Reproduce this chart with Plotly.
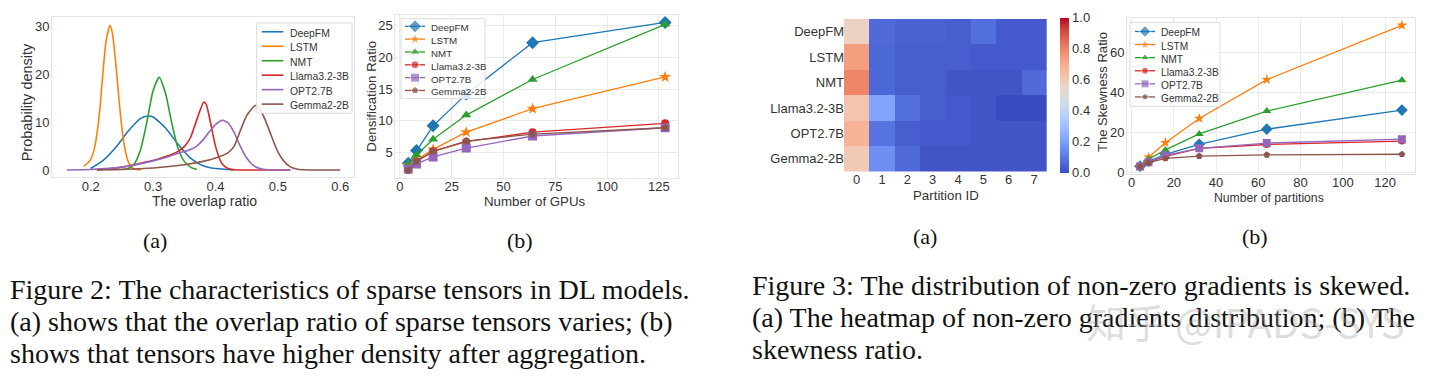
import plotly.graph_objects as go

W, H = 1440, 377
def px(x): return x / W
def py(y): return 1 - y / H

# ---------------- data ----------------
models = ["DeepFM", "LSTM", "NMT", "Llama3.2-3B", "OPT2.7B", "Gemma2-2B"]
colors = ["#1f77b4", "#ff7f0e", "#2ca02c", "#d62728", "#9467bd", "#8c564b"]
symbols = ["diamond", "star", "triangle-up", "circle", "square", "pentagon"]
msizes = [10, 9, 9, 8, 9, 8]

# (a) overlap ratio density curves
ov_deepfm_x = [0.200, 0.220, 0.240, 0.260, 0.280, 0.292, 0.300, 0.320, 0.340, 0.360, 0.380, 0.400, 0.430]
ov_deepfm_y = [0.3, 2.0, 4.7, 8.1, 10.8, 11.3, 11.1, 8.8, 5.4, 2.5, 0.9, 0.3, 0.0]
ov_lstm_x = [0.189, 0.195, 0.200, 0.205, 0.210, 0.215, 0.220, 0.225, 0.231, 0.235, 0.240, 0.245, 0.250, 0.255, 0.260, 0.265, 0.270, 0.280]
ov_lstm_y = [0.8, 1.4, 2.2, 4.0, 7.5, 13.2, 21.0, 27.3, 30.3, 28.5, 22.6, 15.3, 8.8, 4.3, 1.8, 0.6, 0.2, 0.0]
ov_nmt_x = [0.250, 0.260, 0.270, 0.280, 0.290, 0.300, 0.310, 0.320, 0.330, 0.340, 0.350, 0.360, 0.370]
ov_nmt_y = [0.1, 0.3, 1.3, 4.3, 10.0, 16.6, 19.4, 16.0, 9.8, 4.5, 1.8, 0.6, 0.1]
ov_llama_x = [0.210, 0.230, 0.250, 0.270, 0.290, 0.300, 0.320, 0.340, 0.350, 0.360, 0.370, 0.381, 0.385, 0.390, 0.400, 0.410, 0.420, 0.430, 0.450, 0.520]
ov_llama_y = [0.05, 0.25, 0.6, 1.1, 1.7, 2.0, 2.8, 3.9, 4.9, 6.8, 10.5, 14.2, 13.8, 11.2, 5.0, 1.4, 0.3, 0.05, 0.0, 0.0]
ov_opt_x = [0.162, 0.200, 0.250, 0.300, 0.320, 0.340, 0.360, 0.370, 0.380, 0.390, 0.400, 0.411, 0.420, 0.430, 0.440, 0.450, 0.460, 0.470, 0.480, 0.520]
ov_opt_y = [0.0, 0.1, 0.6, 1.9, 2.6, 3.5, 4.3, 5.0, 6.3, 8.0, 9.5, 10.4, 9.9, 7.8, 4.9, 2.5, 1.0, 0.35, 0.1, 0.0]
ov_gemma_x = [0.210, 0.250, 0.300, 0.350, 0.380, 0.400, 0.420, 0.430, 0.440, 0.450, 0.464, 0.470, 0.480, 0.490, 0.500, 0.510, 0.520, 0.530, 0.540, 0.600]
ov_gemma_y = [0.0, 0.1, 0.4, 1.1, 1.8, 2.5, 3.6, 5.0, 8.3, 11.4, 13.5, 13.0, 10.4, 7.0, 3.8, 1.8, 0.65, 0.2, 0.05, 0.0]
ov_x = [ov_deepfm_x, ov_lstm_x, ov_nmt_x, ov_llama_x, ov_opt_x, ov_gemma_x]
ov_y = [ov_deepfm_y, ov_lstm_y, ov_nmt_y, ov_llama_y, ov_opt_y, ov_gemma_y]

# (b) densification ratio vs number of GPUs
gpus = [4, 8, 16, 32, 64, 128]
dens_deepfm = [3.3, 5.3, 9.2, 14.2, 22.3, 25.5]
dens_lstm = [3.0, 3.8, 5.5, 8.2, 11.9, 16.9]
dens_nmt = [3.1, 4.6, 7.1, 10.9, 16.5, 25.2]
dens_llama = [2.3, 3.6, 5.2, 6.7, 8.2, 9.6]
dens_opt = [2.4, 3.2, 4.3, 5.7, 7.6, 8.9]
dens_gemma = [2.2, 3.6, 5.2, 6.8, 7.9, 8.9]
dens = [dens_deepfm, dens_lstm, dens_nmt, dens_llama, dens_opt, dens_gemma]

# Figure 3 (a) heatmap of non-zero gradient distribution
partition_ids = [0, 1, 2, 3, 4, 5, 6, 7]
heat_deepfm = [0.57, 0.07, 0.05, 0.05, 0.04, 0.08, 0.03, 0.03]
heat_lstm = [0.74, 0.06, 0.04, 0.04, 0.04, 0.03, 0.03, 0.03]
heat_nmt = [0.80, 0.06, 0.04, 0.04, 0.02, 0.02, 0.02, 0.07]
heat_llama = [0.62, 0.22, 0.08, 0.04, 0.03, 0.02, 0.00, 0.00]
heat_opt = [0.68, 0.09, 0.04, 0.03, 0.03, 0.02, 0.02, 0.02]
heat_gemma = [0.60, 0.16, 0.07, 0.02, 0.02, 0.02, 0.02, 0.02]
heat = [heat_deepfm, heat_lstm, heat_nmt, heat_llama, heat_opt, heat_gemma]

# Figure 3 (b) skewness ratio vs number of partitions
partitions = [4, 8, 16, 32, 64, 128]
skew_deepfm = [3.0, 5.5, 9.0, 14.0, 21.6, 31.2]
skew_lstm = [3.0, 7.5, 14.8, 27.0, 46.5, 73.8]
skew_nmt = [3.0, 6.5, 11.2, 19.2, 30.7, 46.2]
skew_llama = [2.8, 5.0, 8.0, 12.0, 13.9, 15.6]
skew_opt = [2.8, 5.0, 8.5, 12.0, 14.6, 16.6]
skew_gemma = [2.8, 4.8, 6.9, 8.1, 8.7, 9.0]
skew = [skew_deepfm, skew_lstm, skew_nmt, skew_llama, skew_opt, skew_gemma]

coolwarm = [
    [0.0, "rgb(59,76,192)"], [0.0625, "rgb(77,104,215)"], [0.125, "rgb(98,130,234)"],
    [0.1875, "rgb(119,154,247)"], [0.25, "rgb(141,176,254)"], [0.3125, "rgb(163,194,255)"],
    [0.375, "rgb(184,208,249)"], [0.4375, "rgb(204,217,238)"], [0.5, "rgb(221,221,221)"],
    [0.5625, "rgb(236,211,197)"], [0.625, "rgb(245,196,172)"], [0.6875, "rgb(247,177,148)"],
    [0.75, "rgb(244,154,123)"], [0.8125, "rgb(236,127,99)"], [0.875, "rgb(222,96,77)"],
    [0.9375, "rgb(203,62,56)"], [1.0, "rgb(180,4,38)"],
]

SANS = "Liberation Sans, Arial, sans-serif"
SERIF = "Liberation Serif, Times New Roman, serif"
TXT = "#333333"
DY = 4  # visual offset of annotation text (box middle vs glyph centre)

fig = go.Figure()

# panel 1
for i, m in enumerate(models):
    fig.add_trace(go.Scatter(x=ov_x[i], y=ov_y[i], mode="lines", line=dict(color=colors[i], width=1.6, shape="spline", smoothing=0.6),
                             xaxis="x", yaxis="y", showlegend=False))
# panel 2
for i, m in enumerate(models):
    fig.add_trace(go.Scatter(x=gpus, y=dens[i], mode="lines+markers", line=dict(color=colors[i], width=1.3),
                             marker=dict(symbol=symbols[i], size=msizes[i], color=colors[i]),
                             xaxis="x2", yaxis="y2", showlegend=False))
# panel 3 heatmap
fig.add_trace(go.Heatmap(z=heat, x=partition_ids, y=models, colorscale=coolwarm, zmin=0, zmax=1,
                         xaxis="x3", yaxis="y3", showscale=True,
                         colorbar=dict(x=px(1060), xanchor="left", xpad=0, ypad=0, thickness=9,
                                       lenmode="pixels", len=155, y=py(96.8), yanchor="middle",
                                       outlinewidth=0, ticks="", tickvals=[0, 0.2, 0.4, 0.6, 0.8, 1.0],
                                       ticktext=["0.0", "0.2", "0.4", "0.6", "0.8", "1.0"],
                                       tickfont=dict(family=SANS, size=13, color=TXT))))
# panel 4
for i, m in enumerate(models):
    fig.add_trace(go.Scatter(x=partitions, y=skew[i], mode="lines+markers", line=dict(color=colors[i], width=1.3),
                             marker=dict(symbol=symbols[i], size=msizes[i] - 1, color=colors[i]),
                             xaxis="x4", yaxis="y4", showlegend=False))

# manual legends on a page-size overlay axis (pixel coordinates)
def legend(box, y0, dy, lx0, lx1, tx, fsize, with_markers, msize_off=0):
    x0, yt, x1, yb = box
    fig.add_trace(go.Scatter(x=[x0, x1, x1, x0, x0], y=[yt, yt, yb, yb, yt], mode="lines", fill="toself",
                             fillcolor="rgba(255,255,255,0.85)", line=dict(color="#dcdcdc", width=1),
                             xaxis="x5", yaxis="y5", showlegend=False, hoverinfo="skip"))
    for i, m in enumerate(models):
        yy = y0 + dy * i
        if with_markers:
            fig.add_trace(go.Scatter(x=[lx0, (lx0 + lx1) / 2, lx1], y=[yy, yy, yy], mode="lines+markers",
                                     line=dict(color=colors[i], width=1.3),
                                     marker=dict(symbol=symbols[i], size=[0, msizes[i] + msize_off, 0], color=colors[i]),
                                     xaxis="x5", yaxis="y5", showlegend=False, hoverinfo="skip"))
        else:
            fig.add_trace(go.Scatter(x=[lx0, lx1], y=[yy, yy], mode="lines", line=dict(color=colors[i], width=1.6),
                                     xaxis="x5", yaxis="y5", showlegend=False, hoverinfo="skip"))
        fig.add_annotation(x=px(tx), y=py(yy + 1.5), xref="paper", yref="paper", text=m, showarrow=False,
                           xanchor="left", yanchor="middle", font=dict(family=SANS, size=fsize, color=TXT))

legend((256.7, 23.3, 352, 115), 32.3, 14.7, 261.7, 283.3, 288, 10.4, False)
legend((401, 19, 485, 100), 26.7, 13.05, 405, 425, 429, 9.8, True)
legend((1130, 23, 1220, 108), 32, 13.3, 1135, 1155, 1159, 10.2, True, -1)

def ax_style(grid=True, xaxis=True):
    return dict(showline=True, linecolor="#e4e4e4", linewidth=1, mirror=True, showgrid=grid,
                gridcolor="#ebebeb", gridwidth=1, zeroline=False, ticks="", ticklen=0,
                ticklabelstandoff=(-3 if xaxis else -1),
                tickfont=dict(family=SANS, size=13, color=TXT), fixedrange=True)

fig.update_layout(
    width=W, height=H, margin=dict(l=0, r=0, t=0, b=0),
    paper_bgcolor="white", plot_bgcolor="rgba(0,0,0,0)", showlegend=False,
    xaxis=dict(domain=[px(52), px(354)], anchor="y", range=[0.138, 0.622], tickvals=[0.2, 0.3, 0.4, 0.5, 0.6], **ax_style(False)),
    yaxis=dict(domain=[py(180), py(17)], anchor="x", range=[-1.5, 32.1], tickvals=[0, 10, 20, 30], **ax_style(False, False)),
    xaxis2=dict(domain=[px(395.4), px(678)], anchor="y2", range=[-2.2, 134.2], tickvals=[0, 25, 50, 75, 100, 125], **ax_style()),
    yaxis2=dict(domain=[py(180.6), py(15)], anchor="x2", range=[1.03, 26.7], tickvals=[5, 10, 15, 20, 25], **ax_style(True, False)),
    xaxis3=dict(domain=[px(844), px(1046.7)], anchor="y3", tickvals=partition_ids, showline=False, showgrid=False,
                zeroline=False, ticks="", ticklabelstandoff=-2, tickfont=dict(family=SANS, size=13, color=TXT), fixedrange=True),
    yaxis3=dict(domain=[py(174.3), py(19.3)], anchor="x3", autorange="reversed", showline=False, showgrid=False,
                zeroline=False, ticks="", ticklabelstandoff=-1, tickfont=dict(family=SANS, size=13, color=TXT), fixedrange=True),
    xaxis4=dict(domain=[px(1127), px(1415)], anchor="y4", range=[-2.2, 134.2], tickvals=[0, 20, 40, 60, 80, 100, 120], **ax_style()),
    yaxis4=dict(domain=[py(176.5), py(18)], anchor="x4", range=[-0.76, 77.6], tickvals=[0, 20, 40, 60], **ax_style(True, False)),
    xaxis5=dict(domain=[0, 1], anchor="y5", range=[0, W], visible=False, fixedrange=True),
    yaxis5=dict(domain=[0, 1], anchor="x5", range=[H, 0], visible=False, fixedrange=True),
)

def note(x, y, text, size, angle=0, family=SANS, xanchor="center", color=TXT, dy=DY):
    fig.add_annotation(x=px(x), y=py(y + dy), xref="paper", yref="paper", text=text, showarrow=False,
                       textangle=angle, xanchor=xanchor, yanchor="middle", font=dict(family=family, size=size, color=color))

# axis titles
note(27, 104, "Probability density", 14.5, -90, dy=0)
note(204.7, 200, "The overlap ratio", 14)
note(371.7, 97.5, "Densification Ratio", 13.3, -90, dy=0)
note(534.5, 200.7, "Number of GPUs", 13.3)
note(945.5, 195, "Partition ID", 13.3)
note(1103.3, 93.3, "The Skewness Ratio", 13.1, -90, dy=0)
note(1268.8, 196.7, "Number of partitions", 12.2)

# captions
BLACK = "#111111"
note(155, 240, "(a)", 22, family=SERIF, color=BLACK)
note(520, 240, "(b)", 22, family=SERIF, color=BLACK)
note(925, 236, "(a)", 22, family=SERIF, color=BLACK)
note(1255, 236, "(b)", 22, family=SERIF, color=BLACK)
cap2 = ["Figure 2: The characteristics of sparse tensors in DL models.",
        "(a) shows that the overlap ratio of sparse tensors varies; (b)",
        "shows that tensors have higher density after aggregation."]
cap3 = ["Figure 3: The distribution of non-zero gradients is skewed.",
        "(a) The heatmap of non-zero gradients distribution; (b) The",
        "skewness ratio."]
for k, line in enumerate(cap2):
    note(8, 290 + 32.5 * k, line, 28, family=SERIF, xanchor="left", color=BLACK)
for k, line in enumerate(cap3):
    note(750, 286 + 32.8 * k, line, 28, family=SERIF, xanchor="left", color=BLACK)

# watermark
note(1245, 322, "知乎 @IPADS-SYS", 40, family="Noto Sans CJK SC", color="rgba(160,160,160,0.35)")

fig.write_html("out.html", config={"displayModeBar": False},
               post_script="document.body.style.margin='0';document.body.style.overflow='hidden';")
